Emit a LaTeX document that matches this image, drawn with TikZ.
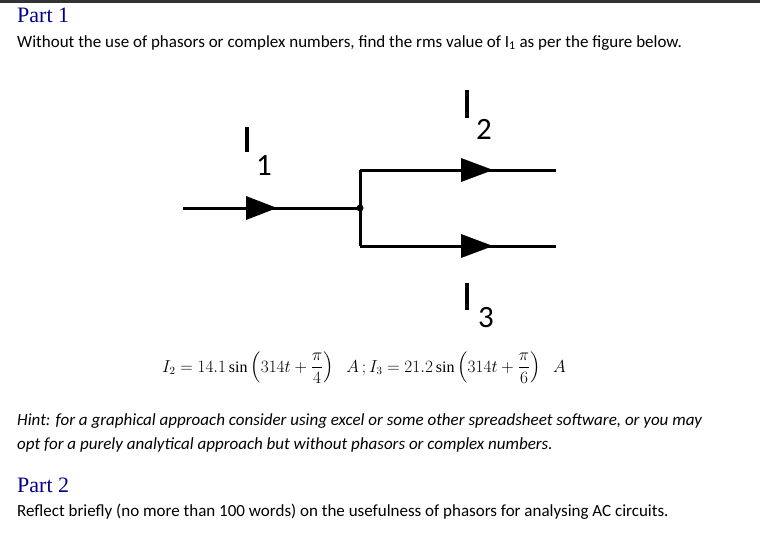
\documentclass[tikz,border=0pt]{standalone}
\usepackage{amsmath}
\usepackage{fontspec}
\setmainfont{Carlito}
\setmathrm{Liberation Serif}
\usetikzlibrary{decorations.markings}
\begin{document}
\begin{tikzpicture}[x=1pt,y=-1pt,
  wire/.style={line width=3pt},
  bar/.style={line width=3.6pt},
  tri/.style={fill=black},
  txt/.style={anchor=base west,inner sep=0pt,font=\fontsize{17}{20}\selectfont},
  head/.style={anchor=base west,inner sep=0pt,text=blue!55!black,font=\fontsize{22}{26}\selectfont\fontspec{Liberation Serif}},
  digit/.style={inner sep=0pt,font=\fontsize{31}{31}\selectfont}]
\useasboundingbox (0,0) rectangle (760,546);
\fill[black!80] (0,0) rectangle (760,3);
\node[head] (p1) at (17,22) {Part 1};
\node[txt] (t1) at (17,47) {Without the use of phasors or complex numbers, find the rms value of I\textsubscript{1} as per the figure below.};
% circuit
\coordinate (in) at (183,208);
\coordinate (j) at (360,208);
\coordinate (jt) at (360,170);
\coordinate (jb) at (360,246);
\coordinate (ot) at (556,170);
\coordinate (ob) at (556,246);
\draw[wire] (in) -- (j);
\draw[wire] (jt) -- (jb);
\draw[wire] (jt) -- (ot);
\draw[wire] (jb) -- (ob);
\fill (j) circle (3.5);
\fill[tri] (246,196) -- (277,208) -- (246,220) -- cycle;
\fill[tri] (461,158) -- (493,170) -- (461,182) -- cycle;
\fill[tri] (461,234) -- (493,246) -- (461,258) -- cycle;
\draw[bar] (247,127) -- (247,152);
\node[digit] (l1) at (264,166) {1};
\draw[bar] (467,90) -- (467,118);
\node[digit] (l2) at (484,129) {2};
\draw[bar] (467,283) -- (467,310);
\node[digit] (l3) at (486,318) {3};
% equation
\node[inner sep=0pt,anchor=center,font=\fontsize{16}{19}\selectfont] (eq) at (364,368)
 {$I_2=14.1\sin\left(314t+\dfrac{\pi}{4}\right)\;\;A\,;I_3=21.2\sin\left(314t+\dfrac{\pi}{6}\right)\;\;A$};
\node[txt,font=\fontsize{17}{20}\selectfont\itshape] (h1) at (17,425) {Hint: for a graphical approach consider using excel or some other spreadsheet software, or you may};
\node[txt,font=\fontsize{17}{20}\selectfont\itshape] (h2) at (17,449) {opt for a purely analytical approach but without phasors or complex numbers.};
\node[head] (p2) at (17,492) {Part 2};
\node[txt] (t2) at (17,516) {Reflect briefly (no more than 100 words) on the usefulness of phasors for analysing AC circuits.};
\end{tikzpicture}
\end{document}
